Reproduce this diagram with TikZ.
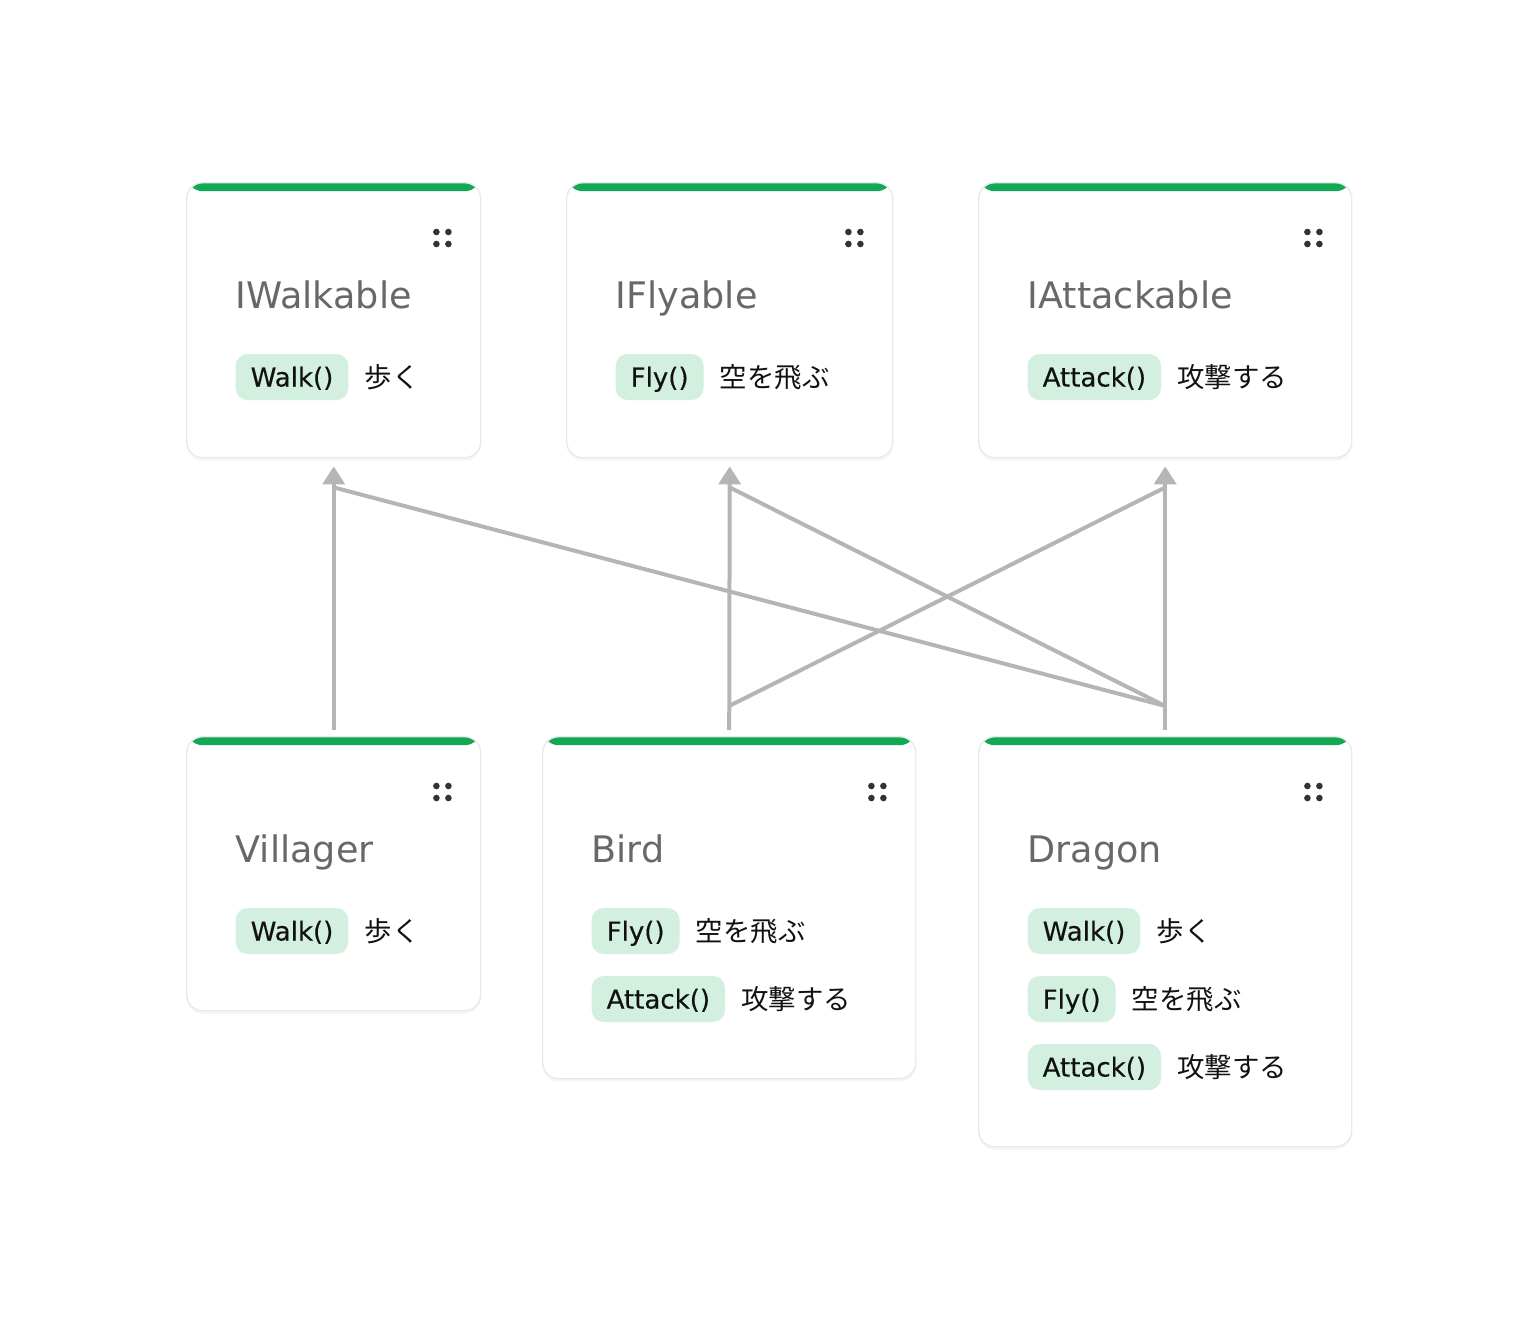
\documentclass[tikz,border=0pt]{standalone}
\usepackage{fontspec}
\setmainfont{DejaVu Sans}
\newfontfamily\cjk{Noto Sans CJK JP}
\newfontfamily\medium{DejaVu Sans}[FakeBold=0.4]
\usepackage{xcolor}
\definecolor{Green}{RGB}{18,168,84}
\definecolor{Mint}{RGB}{210,239,224}
\definecolor{Grey}{RGB}{104,104,104}
\definecolor{Silver}{RGB}{181,181,181}
\definecolor{Dots}{RGB}{51,51,51}
\definecolor{Border}{RGB}{233,233,233}
\definecolor{Black}{RGB}{17,17,17}
\definecolor{White}{RGB}{255,255,255}
\newcommand{\grip}[1]{
	\fill[Dots] ([xshift=-0.45cm, yshift=-0.50cm]#1.north east) circle (0.033cm);
	\fill[Dots] ([xshift=-0.33cm, yshift=-0.50cm]#1.north east) circle (0.033cm);
	\fill[Dots] ([xshift=-0.45cm, yshift=-0.62cm]#1.north east) circle (0.033cm);
	\fill[Dots] ([xshift=-0.33cm, yshift=-0.62cm]#1.north east) circle (0.033cm);
}
\usepackage{tikz}
\usetikzlibrary{positioning, arrows.meta, shadows}

\begin{document}
\begin{tikzpicture}[
		card/.style={anchor=north west, inner sep=0pt, draw=Border, fill=White, line width=0.4pt, rounded corners=0.16cm,
			drop shadow={opacity=0.07, shadow xshift=0cm, shadow yshift=-0.03cm},
			path picture={\fill[Green] ([yshift=0.05cm]path picture bounding box.north west) rectangle ([yshift=-0.085cm]path picture bounding box.north east);}},
		title/.style={anchor=base west, inner sep=0pt, text=Grey, font=\fontsize{10.4}{12}\selectfont},
		method/.style={anchor=west, fill=Mint, text=Black, rounded corners=0.12cm, minimum height=0.46cm, inner xsep=0.15cm, inner ysep=0pt,
			text height=0.24cm, text depth=0.05cm, font=\medium\fontsize{7.4}{9}\selectfont},
		note/.style={anchor=west, inner sep=0pt, text=Black, text height=0.27cm, text depth=0.06cm, font=\cjk\fontsize{7.8}{9}\selectfont},
		link/.style={draw=Silver, line width=0.04cm},
		tip/.style={-{Triangle[width=0.22cm, length=0.18cm]}}
	]
	
	\useasboundingbox (0,0) rectangle (15.36,-13.34);
	
	% Interfaces
	\node[card, minimum width=2.94cm, minimum height=2.75cm] (walkable) at (1.86,-1.82) {};
	\node[card, minimum width=3.26cm, minimum height=2.75cm] (flyable) at (5.66,-1.82) {};
	\node[card, minimum width=3.73cm, minimum height=2.75cm] (attackable) at (9.78,-1.82) {};
	
	% Classes
	\node[card, minimum width=2.94cm, minimum height=2.74cm] (villager) at (1.86,-7.36) {};
	\node[card, minimum width=3.73cm, minimum height=3.42cm] (bird) at (5.42,-7.36) {};
	\node[card, minimum width=3.73cm, minimum height=4.10cm] (dragon) at (9.78,-7.36) {};
	
	% Grips
	\grip{walkable}
	\grip{flyable}
	\grip{attackable}
	\grip{villager}
	\grip{bird}
	\grip{dragon}
	
	% Titles
	\node[title] (walkabletitle) at ([xshift=0.49cm, yshift=-1.26cm]walkable.north west) {IWalkable};
	\node[title] (flyabletitle) at ([xshift=0.49cm, yshift=-1.26cm]flyable.north west) {IFlyable};
	\node[title] (attackabletitle) at ([xshift=0.49cm, yshift=-1.26cm]attackable.north west) {IAttackable};
	\node[title] (villagertitle) at ([xshift=0.49cm, yshift=-1.26cm]villager.north west) {Villager};
	\node[title] (birdtitle) at ([xshift=0.49cm, yshift=-1.26cm]bird.north west) {Bird};
	\node[title] (dragontitle) at ([xshift=0.49cm, yshift=-1.26cm]dragon.north west) {Dragon};
	
	% Methods
	\node[method] (walkablewalk) at ([xshift=0.49cm, yshift=-1.95cm]walkable.north west) {Walk()};
	\node[note, right=0.15cm of walkablewalk] (walkablewalknote) {歩く};
	
	\node[method] (flyablefly) at ([xshift=0.49cm, yshift=-1.95cm]flyable.north west) {Fly()};
	\node[note, right=0.15cm of flyablefly] (flyableflynote) {空を飛ぶ};
	
	\node[method] (attackableattack) at ([xshift=0.49cm, yshift=-1.95cm]attackable.north west) {Attack()};
	\node[note, right=0.15cm of attackableattack] (attackableattacknote) {攻撃する};
	
	\node[method] (villagerwalk) at ([xshift=0.49cm, yshift=-1.95cm]villager.north west) {Walk()};
	\node[note, right=0.15cm of villagerwalk] (villagerwalknote) {歩く};
	
	\node[method] (birdfly) at ([xshift=0.49cm, yshift=-1.95cm]bird.north west) {Fly()};
	\node[note, right=0.15cm of birdfly] (birdflynote) {空を飛ぶ};
	\node[method] (birdattack) at ([xshift=0.49cm, yshift=-2.63cm]bird.north west) {Attack()};
	\node[note, right=0.15cm of birdattack] (birdattacknote) {攻撃する};
	
	\node[method] (dragonwalk) at ([xshift=0.49cm, yshift=-1.95cm]dragon.north west) {Walk()};
	\node[note, right=0.15cm of dragonwalk] (dragonwalknote) {歩く};
	\node[method] (dragonfly) at ([xshift=0.49cm, yshift=-2.63cm]dragon.north west) {Fly()};
	\node[note, right=0.15cm of dragonfly] (dragonflynote) {空を飛ぶ};
	\node[method] (dragonattack) at ([xshift=0.49cm, yshift=-3.31cm]dragon.north west) {Attack()};
	\node[note, right=0.15cm of dragonattack] (dragonattacknote) {攻撃する};
	
	% Ends
	\coordinate (walkabletip) at ([yshift=-0.08cm]walkable.south);
	\coordinate (flyabletip) at ([yshift=-0.08cm]flyable.south);
	\coordinate (attackabletip) at ([yshift=-0.08cm]attackable.south);
	\coordinate (walkablefoot) at ([yshift=-0.29cm]walkable.south);
	\coordinate (flyablefoot) at ([yshift=-0.29cm]flyable.south);
	\coordinate (attackablefoot) at ([yshift=-0.29cm]attackable.south);
	
	\coordinate (villagerbase) at ([yshift=0.06cm]villager.north);
	\coordinate (birdbase) at ([yshift=0.06cm]bird.north);
	\coordinate (dragonbase) at ([yshift=0.06cm]dragon.north);
	\coordinate (birdfork) at ([yshift=0.30cm]bird.north);
	\coordinate (dragonfork) at ([yshift=0.30cm]dragon.north);
	
	% Arrows
	\draw[link, tip] (villagerbase) -- (walkabletip);
	\draw[link, tip] (birdbase) -- (flyabletip);
	\draw[link, tip] (dragonbase) -- (attackabletip);
	
	\draw[link] (birdfork) -- (attackablefoot);
	\draw[link] (dragonfork) -- (walkablefoot);
	\draw[link] (dragonfork) -- (flyablefoot);
	
\end{tikzpicture}
\end{document}
